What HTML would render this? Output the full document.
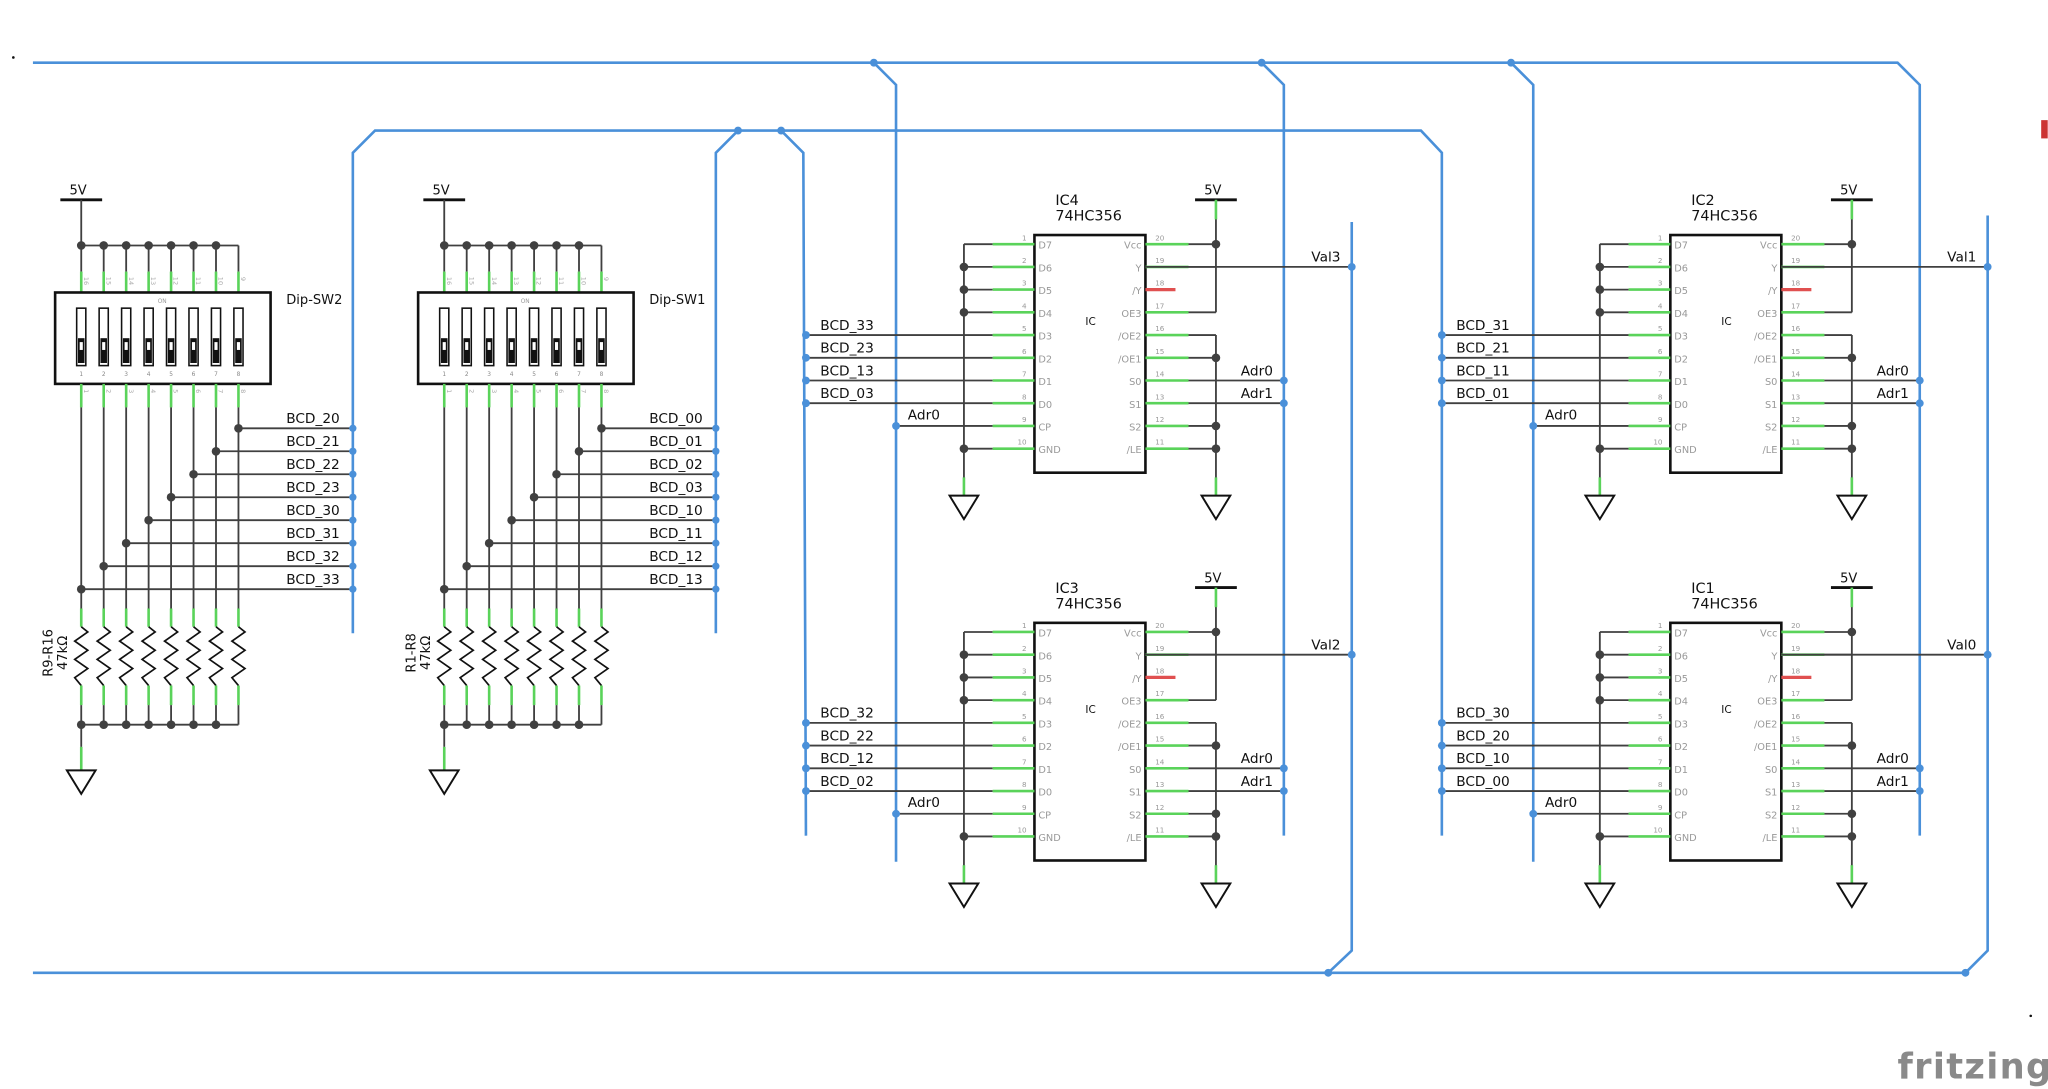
<!DOCTYPE html>
<html><head><meta charset="utf-8"><style>
html,body{margin:0;padding:0;background:#fff;width:2048px;height:1089px;overflow:hidden}
svg{display:block}
text{font-family:"DejaVu Sans","Liberation Sans",sans-serif}
</style></head><body>
<svg id="s" width="2048" height="1089" viewBox="0 0 1568 834" xmlns="http://www.w3.org/2000/svg"></svg>
<script>
const s=document.getElementById('s');let o='';
const B='#4a90d9',K='#404040',G='#5ad35a';
function L(x1,y1,x2,y2,c,w){o+=`<line x1="${x1}" y1="${y1}" x2="${x2}" y2="${y2}" stroke="${c||K}" stroke-width="${w||1.4}"/>`;}
function P(pts,c,w){o+=`<polyline points="${pts}" fill="none" stroke="${c||B}" stroke-width="${w||2}"/>`;}
function D(x,y,c,r){o+=`<circle cx="${x}" cy="${y}" r="${r||3.3}" fill="${c||K}"/>`;}
function T(x,y,t,sz,c,a,extra){o+=`<text x="${x}" y="${y}" font-size="${sz||11}" fill="${c||'#111'}" ${a?'text-anchor="'+a+'"':''} ${extra||''}>${t}</text>`;}
function GND(x,y){o+=`<polygon points="${x-11},${y} ${x+11},${y} ${x},${y+18}" fill="none" stroke="#111" stroke-width="1.5"/>`;}
function V5(x,y){L(x-16,y,x+16,y,'#111',2.2);T(x-9,y-4,'5V',10);}
P('25,48 1453,48 1470,65 1470,640');
P('669,48 686,65 686,660');P('966,48 983,65 983,640');P('1157,48 1174,65 1174,660');
P('270,485 270,117 287,100 1088,100 1104,117 1104,640');
P('548,485 548,117 565,100');P('598,100 615,117 617,640');
P('25,745 1505,745 1522,728 1522,165');P('1017,745 1035,728 1035,170');
[[669,48],[966,48],[1157,48],[565,100],[598,100],[1017,745],[1505,745]].forEach(p=>D(p[0],p[1],B,3));
function dip(ox,name,rl,labels,blueX){
  const xs=[];for(let i=0;i<8;i++)xs.push(ox+62+i*17.2);
  V5(ox+62,153);L(ox+62,153,ox+62,188);
  L(ox+62,188,xs[7],188);
  xs.forEach((x,i)=>{ if(i<7)D(x,188); L(x,188,x,208);L(x,208,x,224,G,2);T(x+2,212,16-i,5,'#aaa','', `transform="rotate(90 ${x+2} 212)"`);});
  o+=`<rect x="${ox+42}" y="224" width="165" height="70" fill="#fff" stroke="#111" stroke-width="2"/>`;
  T(ox+124,232,'ON',4.5,'#999','middle');T(ox+219,233,name,10);
  xs.forEach((x,i)=>{o+=`<rect x="${x-3.5}" y="236" width="7" height="44" fill="#fff" stroke="#111" stroke-width="1.2"/><rect x="${x-2.5}" y="259" width="5" height="19" fill="#111"/><rect x="${x-1.2}" y="262" width="2.4" height="6" fill="#fff"/>`;T(x,288,i+1,4.5,'#888','middle');});
  xs.forEach((x,i)=>{L(x,294,x,312,G,2);T(x+2,298,i+1,5,'#aaa','',`transform="rotate(90 ${x+2} 298)"`);L(x,312,x,466);L(x,466,x,480,G,2);
    let z=`${x},480`;for(let k=0;k<6;k++)z+=` ${x+(k%2?-5:5)},${484+k*7}`;z+=` ${x},525`;o+=`<polyline points="${z}" fill="none" stroke="#111" stroke-width="1.3"/>`;
    L(x,525,x,540,G,2);L(x,540,x,555);});
  L(ox+62,555,xs[7],555);xs.forEach((x,i)=>{if(i<7)D(x,555);});
  L(ox+62,555,ox+62,572);L(ox+62,572,ox+62,590,G,2);GND(ox+62,590);
  labels.forEach((t,j)=>{const y=328+j*17.6,x=xs[7-j];L(x,y,blueX,y);D(x,y);D(blueX,y,B,2.8);T(blueX-10,y-4,t,10.5,'#111','end');});
  o+=`<text x="${ox+40}" y="500" font-size="10" fill="#111" text-anchor="middle" transform="rotate(-90 ${ox+40} 500)">${rl}</text><text x="${ox+51}" y="500" font-size="10" fill="#111" text-anchor="middle" transform="rotate(-90 ${ox+51} 500)">47kΩ</text>`;
}
dip(0,'Dip-SW2','R9-R16',['BCD_20','BCD_21','BCD_22','BCD_23','BCD_30','BCD_31','BCD_32','BCD_33'],270);
dip(278,'Dip-SW1','R1-R8',['BCD_00','BCD_01','BCD_02','BCD_03','BCD_10','BCD_11','BCD_12','BCD_13'],548);
function ic(dx,dy,name,bcd,val,lb,sx,cx,rb){
  const bx=792+dx,top=180+dy,py=i=>187+dy+i*17.4;
  T(bx+16,top-23,name,11);T(bx+16,top-11,'74HC356',11);
  o+=`<rect x="${bx}" y="${top}" width="85" height="182" fill="#fff" stroke="#111" stroke-width="2"/>`;
  T(bx+43,top+69,'IC',8,'#111','middle');
  const ln=['D7','D6','D5','D4','D3','D2','D1','D0','CP','GND'],rn=['Vcc','Y','/Y','OE3','/OE2','/OE1','S0','S1','S2','/LE'];
  const lx=bx-54,rx=bx+139;
  for(let i=0;i<10;i++){const y=py(i);
    L(lx,y,bx-32,y);L(bx-32,y,bx,y,G,2);T(bx-6,y-3,i+1,5.5,'#999','end');T(bx+3,y+3.5,ln[i],7.5,'#999');
    if(i==2){L(bx+85,y,bx+108,y,'#e05050',2.5);}else{L(bx+85,y,bx+118,y,G,2);L(bx+118,y,rx,y);}
    T(bx+96,y-3,20-i,5.5,'#999','middle');T(bx+82,y+3.5,rn[i],7.5,'#999','end');}
  L(lx,py(0),lx,py(9)+36);L(lx,py(9)+22,lx,py(9)+36,G,2);GND(lx,py(9)+36);
  [1,2,3,9].forEach(i=>D(lx,py(i)));
  V5(rx,top-27);L(rx,top-27,rx,py(3));L(rx,top-27,rx,top-12,G,2);D(rx,py(0));
  L(rx,py(4),rx,py(9)+36);L(rx,py(9)+22,rx,py(9)+36,G,2);GND(rx,py(9)+36);[5,8,9].forEach(i=>D(rx,py(i)));
  bcd.forEach((t,j)=>{const y=py(4+j);L(lb,y,lx,y);D(lb,y,B,3);T(lb+11,y-4,t,10.5);});
  L(cx,py(8),lx,py(8));D(cx,py(8),B,3);T(cx+9,py(8)-5,'Adr0',10.5);
  L(bx+85,py(1),val[1],py(1));D(val[1],py(1),B,3);T(val[1]-31,py(1)-4,val[0],10.5);
  L(rx,py(6),sx,py(6));L(rx,py(7),sx,py(7));D(sx,py(6),B,3);D(sx,py(7),B,3);
  T(sx-33,py(6)-4,'Adr0',10.5);T(sx-33,py(7)-4,'Adr1',10.5);
}
ic(0,0,'IC4',['BCD_33','BCD_23','BCD_13','BCD_03'],['Val3',1035],617,983,686);
ic(0,297,'IC3',['BCD_32','BCD_22','BCD_12','BCD_02'],['Val2',1035],617,983,686);
ic(487,0,'IC2',['BCD_31','BCD_21','BCD_11','BCD_01'],['Val1',1522],1104,1470,1174);
ic(487,297,'IC1',['BCD_30','BCD_20','BCD_10','BCD_00'],['Val0',1522],1104,1470,1174);
D(10,44,'#111',1);D(1555,778,'#111',1);
o+=`<rect x="1563" y="92" width="5" height="14" fill="#c33"/>`;
T(1453,826,'fritzing',27,'#8a8a8a','','font-weight="bold" letter-spacing="1"');
s.innerHTML=o;
</script>
</body></html>
